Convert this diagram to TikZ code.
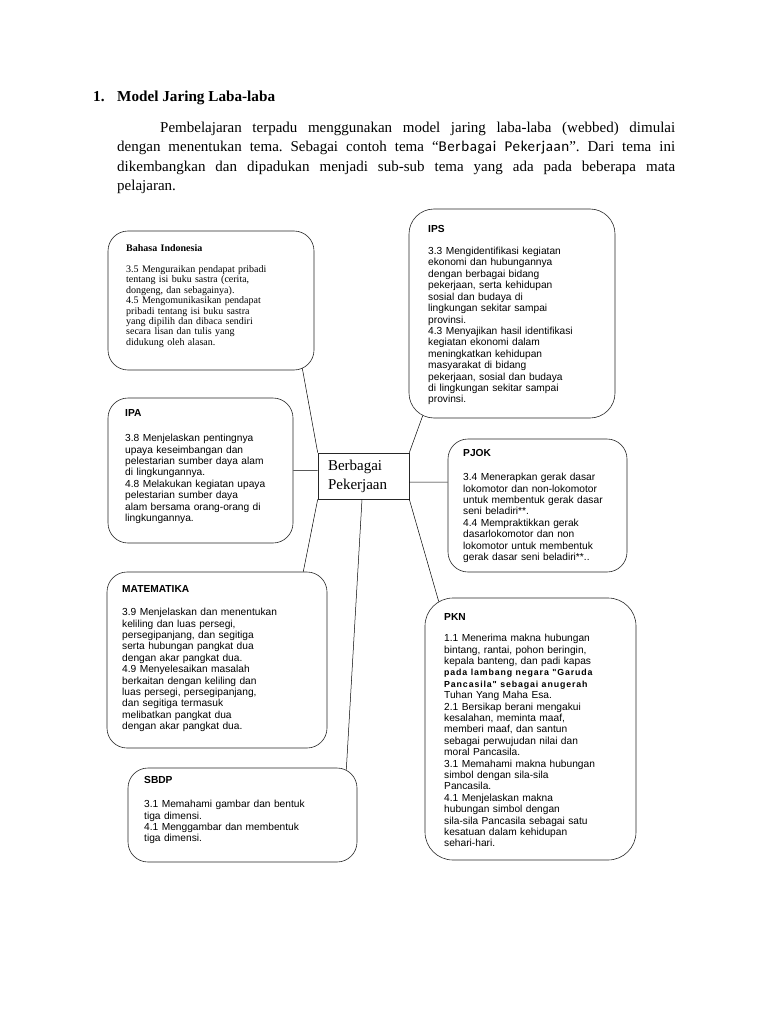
\documentclass[tikz,border=0pt]{standalone}
\usepackage{fontspec}
\setmainfont{Liberation Serif}
\setsansfont{Liberation Sans}
\newfontfamily\temafont{Carlito}[LetterSpace=4]
\newfontfamily\renggang{Liberation Sans}[LetterSpace=10]
\usetikzlibrary{positioning}

\tikzset{
  mapel/.style={draw=black!85, line width=0.6pt, rounded corners=20pt, inner sep=0pt},
  isi/.style={anchor=base west, inner sep=0pt, align=left, font=\sffamily\fontsize{10.2}{11.4}\selectfont},
  jaring/.style={line width=0.5pt},
}

\begin{document}
\frenchspacing
\begin{tikzpicture}[x=1pt,y=-1pt]
\fill[white] (0,0) rectangle (768,1024);
\useasboundingbox (0,0) rectangle (768,1024);

% judul dan paragraf
\node[anchor=base west, inner sep=0pt, font=\bfseries\fontsize{15.2}{18}\selectfont] (judul) at (93,102) {\makebox[24pt][l]{1.}Model Jaring Laba-laba};
\node[anchor=base west, inner sep=0pt, text width=558pt, align=left, font=\fontsize{15}{19.3}\selectfont] (paragraf) at (117,132.5)
  {\spaceskip=0pt\xspaceskip=0pt
   \hspace*{43pt}\makebox[515pt][s]{Pembelajaran terpadu menggunakan model jaring laba-laba (webbed) dimulai}\\
   \makebox[558pt][s]{dengan menentukan tema. Sebagai contoh tema ``{\temafont Berbagai Pekerjaan}''. Dari tema ini}\\
   \makebox[558pt][s]{dikembangkan dan dipadukan menjadi sub-sub tema yang ada pada beberapa mata}\\
   pelajaran.};

% kotak mata pelajaran
\node[mapel, minimum width=206pt, minimum height=139pt] (bahasa) at (211,300.5) {};
\node[mapel, rounded corners=25pt, minimum width=206pt, minimum height=209pt] (ips) at (512,313.5) {};
\node[mapel, minimum width=185pt, minimum height=145pt] (ipa) at (200.5,470.5) {};
\node[mapel, minimum width=179pt, minimum height=133pt] (pjok) at (537.5,505.5) {};
\node[mapel, minimum width=220pt, minimum height=176pt] (mtk) at (217,660) {};
\node[mapel, rounded corners=28pt, minimum width=211pt, minimum height=262pt] (pkn) at (530.5,729) {};
\node[mapel, minimum width=229pt, minimum height=94pt] (sbdp) at (242.5,815) {};

% tema
\node[draw=black!85, line width=0.6pt, minimum width=91pt, minimum height=46pt, text width=71pt,
      inner xsep=10pt, inner ysep=0pt, align=left, font=\fontsize{15}{19}\selectfont] (tema) at (363.5,476) {Berbagai\\Pekerjaan};

% isi kotak
\node[isi, text width=180pt, font=\fontsize{10}{10.4}\selectfont] (isi-bahasa) at (126,251.5)
  {\textbf{Bahasa Indonesia}\\[10.6pt]
   3.5 Menguraikan pendapat pribadi\\
   tentang isi buku sastra (cerita,\\
   dongeng, dan sebagainya).\\
   4.5 Mengomunikasikan pendapat\\
   pribadi tentang isi buku sastra\\
   yang dipilih dan dibaca sendiri\\
   secara lisan dan tulis yang\\
   didukung oleh alasan.};
\node[isi, text width=180pt] (isi-ips) at (428,232.6)
  {\textbf{IPS}\\[10.6pt]
   3.3 Mengidentifikasi kegiatan\\
   ekonomi dan hubungannya\\
   dengan berbagai bidang\\
   pekerjaan, serta kehidupan\\
   sosial dan budaya di\\
   lingkungan sekitar sampai\\
   provinsi.\\
   4.3 Menyajikan hasil identifikasi\\
   kegiatan ekonomi dalam\\
   meningkatkan kehidupan\\
   masyarakat di bidang\\
   pekerjaan, sosial dan budaya\\
   di lingkungan sekitar sampai\\
   provinsi.};
\node[isi, text width=160pt] (isi-ipa) at (125,416.6)
  {\textbf{IPA}\\[13.6pt]
   3.8 Menjelaskan pentingnya\\
   upaya keseimbangan dan\\
   pelestarian sumber daya alam\\
   di lingkungannya.\\
   4.8 Melakukan kegiatan upaya\\
   pelestarian sumber daya\\
   alam bersama orang-orang di\\
   lingkungannya.};
\node[isi, text width=160pt] (isi-pjok) at (463,456.6)
  {\textbf{PJOK}\\[12.6pt]
   3.4 Menerapkan gerak dasar\\
   lokomotor dan non-lokomotor\\
   untuk membentuk gerak dasar\\
   seni beladiri**.\\
   4.4 Mempraktikkan gerak\\
   dasarlokomotor dan non\\
   lokomotor untuk membentuk\\
   gerak dasar seni beladiri**..};
\node[isi, text width=190pt] (isi-mtk) at (122,592.6)
  {\textbf{MATEMATIKA}\\[11.6pt]
   3.9 Menjelaskan dan menentukan\\
   keliling dan luas persegi,\\
   persegipanjang, dan segitiga\\
   serta hubungan pangkat dua\\
   dengan akar pangkat dua.\\
   4.9 Menyelesaikan masalah\\
   berkaitan dengan keliling dan\\
   luas persegi, persegipanjang,\\
   dan segitiga termasuk\\
   melibatkan pangkat dua\\
   dengan akar pangkat dua.};
\node[isi, text width=180pt] (isi-pkn) at (444,620.6)
  {\textbf{PKN}\\[9.6pt]
   1.1 Menerima makna hubungan\\
   bintang, rantai, pohon beringin,\\
   kepala banteng, dan padi kapas\\
   {\renggang\bfseries\fontsize{8.8}{11.4}\selectfont pada lambang negara "Garuda}\\
   {\renggang\bfseries\fontsize{8.8}{11.4}\selectfont Pancasila" sebagai anugerah}\\
   Tuhan Yang Maha Esa.\\
   2.1 Bersikap berani mengakui\\
   kesalahan, meminta maaf,\\
   memberi maaf, dan santun\\
   sebagai perwujudan nilai dan\\
   moral Pancasila.\\
   3.1 Memahami makna hubungan\\
   simbol dengan sila-sila\\
   Pancasila.\\
   4.1 Menjelaskan makna\\
   hubungan simbol dengan\\
   sila-sila Pancasila sebagai satu\\
   kesatuan dalam kehidupan\\
   sehari-hari.};
\node[isi, text width=190pt] (isi-sbdp) at (144,783.6)
  {\textbf{SBDP}\\[12.6pt]
   3.1 Memahami gambar dan bentuk\\
   tiga dimensi.\\
   4.1 Menggambar dan membentuk\\
   tiga dimensi.};

% jaring laba-laba
\draw[jaring] ([xshift=-12pt,yshift=2pt]bahasa.south east) -- (tema.north west)
              (ipa.east) -- (ipa.east -| tema.west)
              ([xshift=14pt,yshift=2.6pt]ips.south west) -- (tema.north east)
              ([yshift=-6pt]tema.east) -- ([yshift=-6pt]tema.east -| pjok.west)
              (tema.south east) -- ([xshift=14pt,yshift=-3.75pt]pkn.north west)
              (tema.south west) -- ([xshift=-24pt]mtk.north east)
              ([xshift=-1.5pt]tema.south) -- ([xshift=-11pt,yshift=-2pt]sbdp.north east);
\end{tikzpicture}
\end{document}
